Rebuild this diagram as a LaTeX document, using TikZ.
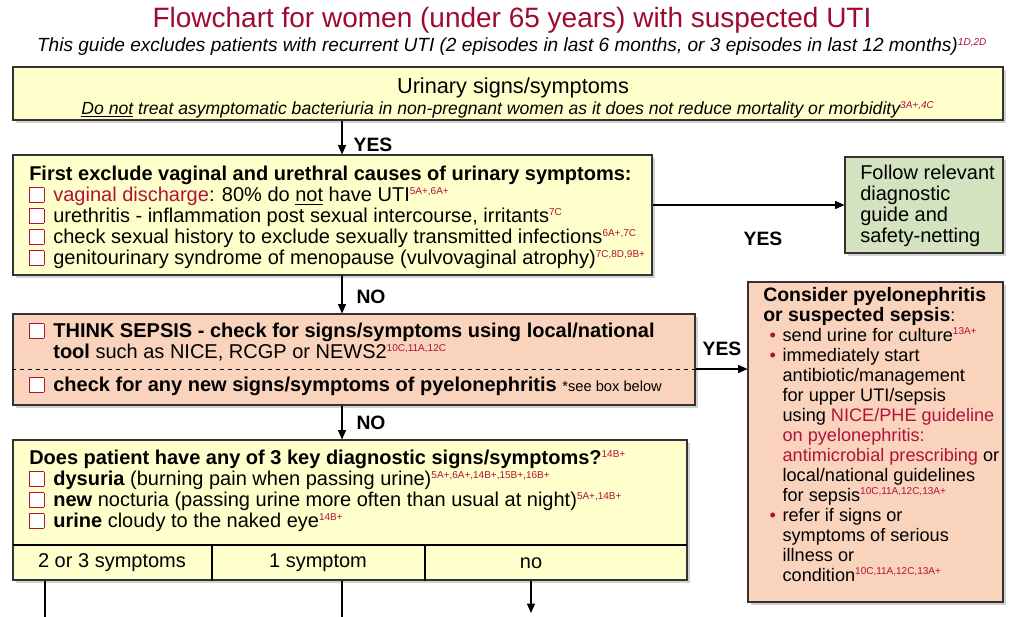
\documentclass[tikz,border=0pt]{standalone}
\usepackage{fontspec}
\setmainfont{Liberation Sans}
\usetikzlibrary{fit,shadows,arrows.meta}
\definecolor{refred}{HTML}{B0123A}
\definecolor{titred}{HTML}{9E0B2F}
\definecolor{yel}{HTML}{FFFFCC}
\definecolor{sal}{HTML}{FAD3BD}
\definecolor{grn}{HTML}{D3E2BF}
\newcommand\rf[1]{\textsuperscript{\color{refred}\fontsize{7.5}{8}\selectfont #1}}
\newcommand\cbx{{\setlength\fboxsep{0pt}\setlength\fboxrule{0.7pt}\fcolorbox{refred}{white}{\rule{0pt}{10pt}\rule{10pt}{0pt}}}\ \,}
\newcommand\bul{\llap{\textcolor{refred}{\textbullet}\hspace{5pt}}}
\newcommand\hdr[1]{{\fontsize{14.6}{15}\selectfont\textbf{#1}}}
\begin{document}
\begin{tikzpicture}[x=0.75pt,y=-0.75pt,
  box/.style={draw=black!80,line width=0.8pt,inner sep=0,drop shadow={shadow xshift=2pt,shadow yshift=-2pt,fill=black!35}},
  txt/.style={inner sep=0,anchor=north west,align=left,font=\fontsize{15}{15.75}\selectfont},
  lbl/.style={font=\bfseries\fontsize{14.5}{16}\selectfont},
  arr/.style={-{Triangle[length=7pt,width=6pt]},line width=0.8pt},
  ln/.style={line width=0.8pt}]
\useasboundingbox[fill=white] (0,0) rectangle (1024,617);
\coordinate (col) at (342,0);
\node[font=\fontsize{21}{23}\selectfont,text=titred] (title) at (512,20) {Flowchart for women (under 65 years) with suspected UTI};
\node[font=\itshape\fontsize{14.3}{16}\selectfont] (sub) at (512,47) {This guide excludes patients with recurrent UTI (2 episodes in last 6 months, or 3 episodes in last 12 months)\rf{1D,2D}};
% boxes
\node[box,fill=yel,fit={(13,67)(1003,120)}] (b1) {};
\node[box,fill=yel,fit={(13,155)(652,275)}] (b2) {};
\node[box,fill=grn,fit={(845,157)(1003,253)}] (g) {};
\node[box,fill=sal,fit={(13,314)(695,405)}] (b3) {};
\node[box,fill=sal,fit={(748,282)(1003,602)}] (r) {};
\node[box,fill=yel,fit={(13,440)(687,580)}] (b4) {};
% box1 text
\node[font=\fontsize{16.3}{18}\selectfont] (t1a) at (513,88) {Urinary signs/symptoms};
\node[font=\itshape\fontsize{13.2}{14}\selectfont] (t1b) at (508,110) {\underline{Do not} treat asymptomatic bacteriuria in non-pregnant women as it does not reduce mortality or morbidity\rf{3A+,4C}};
% box2 text
\node[txt] (t2) at (29,166) {\textbf{First exclude vaginal and urethral causes of urinary symptoms:}\\
\cbx\textcolor{refred}{vaginal discharge}: 80\% do \underline{not} have UTI\rf{5A+,6A+}\\
\cbx urethritis - inflammation post sexual intercourse, irritants\rf{7C}\\
\cbx check sexual history to exclude sexually transmitted infections\rf{6A+,7C}\\
\cbx genitourinary syndrome of menopause (vulvovaginal atrophy)\rf{7C,8D,9B+}};
% green text
\node[txt] (tg) at (860,165) {Follow relevant\\diagnostic\\guide and\\safety-netting};
% box3 text
\node[txt] (t3) at (29,323) {\cbx\textbf{THINK SEPSIS - check for signs/symptoms using local/national}\\
\phantom{\cbx}\textbf{tool} such as NICE, RCGP or NEWS2\rf{10C,11A,12C}};
\node[txt] (t3b) at (29,377) {\cbx\textbf{check for any new signs/symptoms of pyelonephritis} {\fontsize{11}{12}\selectfont *see box below}};
\draw[dashed,line width=0.6pt] (b3.west |- 0,369) -- (b3.east |- 0,369);
% right text
\node[txt,font=\fontsize{13.6}{15}\selectfont] (tr) at (763,287) {\hdr{Consider pyelonephritis}\\
\hdr{or suspected sepsis}:\\
\hspace*{14.5pt}\bul send urine for culture\rf{13A+}\\
\hspace*{14.5pt}\bul immediately start\\
\hspace*{14.5pt}antibiotic/management\\
\hspace*{14.5pt}for upper UTI/sepsis\\
\hspace*{14.5pt}using \textcolor{refred}{NICE/PHE guideline}\\
\hspace*{14.5pt}\textcolor{refred}{on pyelonephritis:}\\
\hspace*{14.5pt}\textcolor{refred}{antimicrobial prescribing} or\\
\hspace*{14.5pt}local/national guidelines\\
\hspace*{14.5pt}for sepsis\rf{10C,11A,12C,13A+}\\
\hspace*{14.5pt}\bul refer if signs or\\
\hspace*{14.5pt}symptoms of serious\\
\hspace*{14.5pt}illness or\\
\hspace*{14.5pt}condition\rf{10C,11A,12C,13A+}};
% box4 text
\node[txt] (t4) at (29,450) {\textbf{Does patient have any of 3 key diagnostic signs/symptoms?}\rf{14B+}\\
\cbx\textbf{dysuria} (burning pain when passing urine)\rf{5A+,6A+,14B+,15B+,16B+}\\
\cbx\textbf{new} nocturia (passing urine more often than usual at night)\rf{5A+,14B+}\\
\cbx\textbf{urine} cloudy to the naked eye\rf{14B+}};
\coordinate (s1) at (13,545); \coordinate (s2) at (687,545);
\draw[ln] (s1) -- (s2);
\coordinate (v1) at (212,545); \coordinate (v2) at (425,545);
\draw[ln] (v1) -- (v1 |- b4.south);
\draw[ln] (v2) -- (v2 |- b4.south);
\node[font=\fontsize{15}{16}\selectfont] (o1) at (112,563) {2 or 3 symptoms};
\node[font=\fontsize{15}{16}\selectfont] (o2) at (318,563) {1 symptom};
\node[font=\fontsize{15}{16}\selectfont] (o3) at (531,563) {no};
% connectors
\draw[arr] (b1.south -| col) -- (b2.north -| col);
\node[lbl] (y1) at (373,145) {YES};
\draw[arr] (b2.east |- g.west) -- (g.west);
\node[lbl] (y2) at (763,239) {YES};
\draw[arr] (b2.south -| col) -- (b3.north -| col);
\node[lbl] (n1) at (371,297) {NO};
\draw[arr] (b3.east |- 0,369) -- (r.west |- 0,369);
\node[lbl] (y3) at (722,349) {YES};
\draw[arr] (b3.south -| col) -- (b4.north -| col);
\node[lbl] (n2) at (371,423) {NO};
\coordinate (e1) at (45,617); \coordinate (e2) at (342,617); \coordinate (e3) at (531,613);
\draw[ln] (b4.south -| e1) -- (e1);
\draw[ln] (b4.south -| e2) -- (e2);
\draw[arr] (b4.south -| e3) -- (e3);
\end{tikzpicture}
\end{document}
